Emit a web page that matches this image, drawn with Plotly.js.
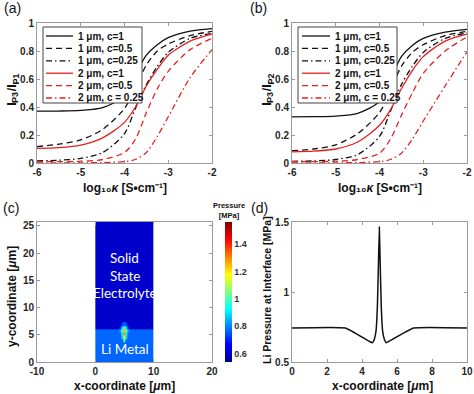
<!DOCTYPE html>
<html><head><meta charset="utf-8">
<script src="https://cdn.plot.ly/plotly-3.0.1.min.js"></script>
<style>html,body{margin:0;padding:0;background:#fff}#chart{width:474px;height:394px}</style>
</head><body><div id="chart"></div>
<script>
const W = 474, H = 394;
const px = v => v / W;
const py = v => 1 - v / H;

// ---------- panels (a) and (b): current ratio vs log10 kappa ----------
const kappa = [-6, -5.5, -5, -4.5, -4, -3.75, -3.5, -3.25, -3, -2.5, -2];
const legendLabels = ['1 μm, c=1', '1 μm, c=0.5', '1 μm, c=0.25',
                      '2 μm, c=1', '2 μm, c=0.5', '2 μm, c = 0.25'];
const lineColors = ['#111111', '#111111', '#111111', '#e3211f', '#e3211f', '#e3211f'];
const lineDashes = ['solid', '6px,4px', '6px,3px,1.5px,3px', 'solid', '6px,4px', '6px,3px,1.5px,3px'];

// (a) I_P3 / I_P1
const ratioP1_1um_c1   = [0.37, 0.371, 0.376, 0.395, 0.48, 0.63, 0.77, 0.845, 0.895, 0.942, 0.96];
const ratioP1_1um_c05  = [0.117, 0.135, 0.165, 0.24, 0.39, 0.54, 0.70, 0.80, 0.85, 0.91, 0.94];
const ratioP1_1um_c025 = [0.015, 0.02, 0.033, 0.075, 0.21, 0.39, 0.56, 0.69, 0.79, 0.89, 0.925];
const ratioP1_2um_c1   = [0.105, 0.11, 0.128, 0.18, 0.29, 0.40, 0.55, 0.67, 0.77, 0.87, 0.92];
const ratioP1_2um_c05  = [0.01, 0.01, 0.012, 0.025, 0.075, 0.17, 0.36, 0.53, 0.655, 0.81, 0.89];
const ratioP1_2um_c025 = [0.0, 0.0, 0.001, 0.003, 0.01, 0.025, 0.075, 0.19, 0.33, 0.61, 0.81];

// (b) I_P3 / I_P2
const ratioP2_1um_c1   = [0.33, 0.331, 0.335, 0.355, 0.44, 0.60, 0.76, 0.84, 0.89, 0.935, 0.955];
const ratioP2_1um_c05  = [0.088, 0.10, 0.13, 0.21, 0.36, 0.52, 0.69, 0.79, 0.845, 0.91, 0.94];
const ratioP2_1um_c025 = [0.012, 0.015, 0.025, 0.06, 0.19, 0.37, 0.56, 0.69, 0.79, 0.89, 0.93];
const ratioP2_2um_c1   = [0.08, 0.085, 0.10, 0.15, 0.27, 0.38, 0.53, 0.66, 0.76, 0.87, 0.92];
const ratioP2_2um_c05  = [0.01, 0.01, 0.012, 0.025, 0.07, 0.17, 0.34, 0.50, 0.64, 0.80, 0.90];
const ratioP2_2um_c025 = [0.0, 0.0, 0.001, 0.003, 0.01, 0.025, 0.07, 0.17, 0.30, 0.55, 0.795];

// ---------- panel (c): pressure field ----------
const cellEdgesX = [0, 4.1, 4.5, 4.8, 5.2, 5.5, 5.9, 10];
const cellEdgesY = [0, 3.6, 4.2, 4.8, 5.4, 6.0, 6.6, 7.3, 26];
const pLi = 0.77, pSSE = 0.61;
const pressureRow0 = [pLi, pLi, pLi, pLi, pLi, pLi, pLi];
const pressureRow1 = [pLi, pLi, pLi, 1.0, pLi, pLi, pLi];
const pressureRow2 = [pLi, pLi, 0.88, 1.2, 0.88, pLi, pLi];
const pressureRow3 = [pLi, pLi, 0.92, 1.3, 0.92, pLi, pLi];
const pressureRow4 = [pLi, 0.84, 1.0, 1.25, 1.0, 0.84, pLi];
const pressureRow5 = [pSSE, 0.70, 0.90, 1.0, 0.90, 0.70, pSSE];
const pressureRow6 = [pSSE, pSSE, 0.72, 0.78, 0.72, pSSE, pSSE];
const pressureRow7 = [pSSE, pSSE, pSSE, pSSE, pSSE, pSSE, pSSE];
const pressureTicks = [0.6, 0.8, 1, 1.2, 1.4];
const pressureTickText = ['0.6', '0.8', '1', '1.2', '1.4'];

// ---------- panel (d): pressure at interface ----------
const interfaceX = [0, 3.05, 4.45, 4.6, 4.7, 4.8, 4.88, 4.94, 4.99, 5.04, 5.1, 5.18, 5.28, 5.38, 5.5, 6.95, 10];
const interfaceP = [0.743, 0.743, 0.645, 0.638, 0.66, 0.72, 0.9, 1.2, 1.464, 1.2, 0.9, 0.72, 0.66, 0.638, 0.645, 0.743, 0.743];

// tick labels (hyphen minus, as in the reference)
const kTicks = [-6, -5, -4, -3, -2];
const kTickText = ['-6', '-5', '-4', '-3', '-2'];
const ratioTicks = [0, 0.2, 0.4, 0.6, 0.8, 1];
const ratioText = ['0', '0.2', '0.4', '0.6', '0.8', '1'];
const xcTicks = [-10, 0, 10, 20];
const xcTickText = ['-10', '0', '10', '20'];

// ---------- build ----------
const seriesA = [ratioP1_1um_c1, ratioP1_1um_c05, ratioP1_1um_c025, ratioP1_2um_c1, ratioP1_2um_c05, ratioP1_2um_c025];
const seriesB = [ratioP2_1um_c1, ratioP2_1um_c05, ratioP2_1um_c025, ratioP2_2um_c1, ratioP2_2um_c05, ratioP2_2um_c025];
const traces = [];
function addCurves(series, xa, ya) {
  series.forEach((s, i) => traces.push({
    x: kappa, y: s, xaxis: xa, yaxis: ya, type: 'scatter', mode: 'lines',
    name: legendLabels[i], showlegend: false, hoverinfo: 'skip',
    line: { color: lineColors[i], dash: lineDashes[i], width: 1.3, shape: 'spline', smoothing: 0.8 }
  }));
}
addCurves(seriesA, 'x', 'y');
addCurves(seriesB, 'x2', 'y2');

const jet = [[0, '#00008f'], [0.125, '#0000ff'], [0.375, '#00ffff'], [0.625, '#ffff00'], [0.875, '#ff0000'], [1, '#800000']];
traces.push({
  type: 'heatmap', x: cellEdgesX, y: cellEdgesY,
  z: [pressureRow0, pressureRow1, pressureRow2, pressureRow3, pressureRow4, pressureRow5, pressureRow6, pressureRow7],
  xaxis: 'x3', yaxis: 'y3', colorscale: jet, zmin: 0.54, zmax: 1.56, hoverinfo: 'skip',
  colorbar: {
    x: px(225), xanchor: 'left', y: py(362), yanchor: 'bottom', len: 140 / H, lenmode: 'fraction',
    thickness: 7, xpad: 0, ypad: 0, outlinewidth: 0, ticks: '', tickvals: pressureTicks, ticktext: pressureTickText,
    tickfont: { family: 'Arial', size: 9, color: '#333', weight: 'bold' }
  }
});
traces.push({
  x: interfaceX, y: interfaceP, xaxis: 'x4', yaxis: 'y4', type: 'scatter', mode: 'lines',
  showlegend: false, hoverinfo: 'skip', line: { color: '#111', width: 1.5, shape: 'spline', smoothing: 0.3 }
});

const tickfont = { family: 'Arial', size: 10, color: '#262626', weight: 'bold' };
function axis(domain, range, tickvals, anchor, ticktext) {
  const a = { domain, range, tickvals, anchor, showgrid: false, zeroline: false, showline: true, mirror: 'ticks',
    linecolor: '#9a9a9a', linewidth: 1, ticks: 'inside', ticklen: 3, tickcolor: '#9a9a9a', tickfont, fixedrange: true };
  if (ticktext) a.ticktext = ticktext;
  return a;
}
const xL = [px(37), px(212)], xR = [px(292), px(467)];
const yT = [py(163), py(23)], yB = [py(362), py(222)];

const layout = {
  width: W, height: H, margin: { l: 0, r: 0, t: 0, b: 0 }, paper_bgcolor: '#fff', plot_bgcolor: '#fff',
  font: { family: 'Arial', color: '#111' }, showlegend: false,
  xaxis: axis(xL, [-6, -2], kTicks, 'y', kTickText),
  yaxis: axis(yT, [0, 1], ratioTicks, 'x', ratioText),
  xaxis2: axis(xR, [-6, -2], kTicks, 'y2', kTickText),
  yaxis2: axis(yT, [0, 1], ratioTicks, 'x2', ratioText),
  xaxis3: axis(xL, [-10, 20], xcTicks, 'y3', xcTickText),
  yaxis3: axis(yB, [0, 25.7], [0, 5, 10, 15, 20, 25], 'x3'),
  xaxis4: axis(xR, [0, 10], [0, 2, 4, 6, 8, 10], 'y4'),
  yaxis4: axis(yB, [0.5, 1.5], [0.5, 1, 1.5], 'x4', ['0.5', '1', '1.5']),
  shapes: [], annotations: []
};

function paperText(text, x, y, opts) {
  layout.annotations.push(Object.assign({ text, x: px(x), y: py(y), xref: 'paper', yref: 'paper', showarrow: false,
    xanchor: 'center', yanchor: 'middle', align: 'center',
    font: { family: 'Arial', size: 12, color: '#111', weight: 'bold' } }, opts || {}));
}
function buildLegend(bx0, by0, bx1, by1, lx0, lx1, tx, rowY) {
  layout.shapes.push({ type: 'rect', xref: 'paper', yref: 'paper', x0: px(bx0), x1: px(bx1), y0: py(by1), y1: py(by0),
    line: { color: '#444', width: 1 }, fillcolor: '#fff', layer: 'above' });
  legendLabels.forEach((lab, i) => {
    const yy = rowY[i];
    layout.shapes.push({ type: 'line', xref: 'paper', yref: 'paper', x0: px(lx0), x1: px(lx1), y0: py(yy), y1: py(yy),
      line: { color: lineColors[i], dash: lineDashes[i], width: 1.3 }, layer: 'above' });
    paperText(lab, tx, yy, { xanchor: 'left', align: 'left', font: { family: 'Arial', size: 10, color: '#111', weight: 'bold' } });
  });
}
const legendRows = [36, 48.4, 60.8, 73.2, 85.6, 98];
buildLegend(43, 27, 142, 103, 46, 73, 76, legendRows);
buildLegend(298, 27, 397, 103, 302, 330, 333, legendRows);

// panel labels
const lblFont = { family: 'Arial', size: 14, color: '#111' };
paperText('(a)', 12, 8, { font: lblFont });
paperText('(b)', 258, 8, { font: lblFont });
paperText('(c)', 11, 208, { font: lblFont });
paperText('(d)', 259, 208, { font: lblFont });

// rotated ratio titles I_P3/I_Pn, built from pieces (main text + lowered subscripts)
function ratioTitle(xc, yc, denom) {
  const big = { family: 'Arial', size: 12.5, color: '#111', weight: 'bold' };
  const small = { family: 'Arial', size: 9, color: '#111', weight: 'bold' };
  // pieces listed from bottom to top: [text, font, length along the text, sideways shift]
  const pieces = [['I', big, 3.6, 0], ['P3', small, 11, 3.5], ['/I', big, 7.4, 0], ['P' + denom, small, 11, 3.5]];
  const total = pieces.reduce((s, p) => s + p[2], 0);
  let pos = yc + total / 2;
  pieces.forEach(([t, f, len, shift]) => {
    paperText(t, xc + shift, pos - len / 2, { textangle: -90, font: f });
    pos -= len;
  });
}
ratioTitle(12, 90, '1');
ratioTitle(267, 90, '2');

// axis titles
paperText('log₁₀<i>κ</i> [S•cm⁻¹]', 125, 188);
paperText('log₁₀<i>κ</i> [S•cm⁻¹]', 380, 188);
paperText('y-coordinate [<i>μ</i>m]', 12, 297, { textangle: -90 });
paperText('x-coordinate [<i>μ</i>m]', 124, 386);
paperText('Li Pressure at Interface [MPa]', 267, 290, { textangle: -90, font: { family: 'Arial', size: 10.5, color: '#111', weight: 'bold' } });
paperText('x-coordinate [<i>μ</i>m]', 382, 386);
paperText('Pressure<br>[MPa]', 229, 210, { font: { family: 'Arial', size: 7.5, color: '#111', weight: 'bold' } });

// text inside panel (c), in data coordinates
const regionFont = { family: 'Lato', size: 13.5, color: '#ffffff' };
[['Solid', 19.1], ['State', 15.8], ['Electrolyte', 12.7], ['Li Metal', 2.4]].forEach(([t, yv]) =>
  layout.annotations.push({ text: t, x: 5, y: yv, xref: 'x3', yref: 'y3', showarrow: false, font: regionFont }));

Plotly.newPlot('chart', traces, layout, { staticPlot: true, displayModeBar: false });
</script>
</body></html>
